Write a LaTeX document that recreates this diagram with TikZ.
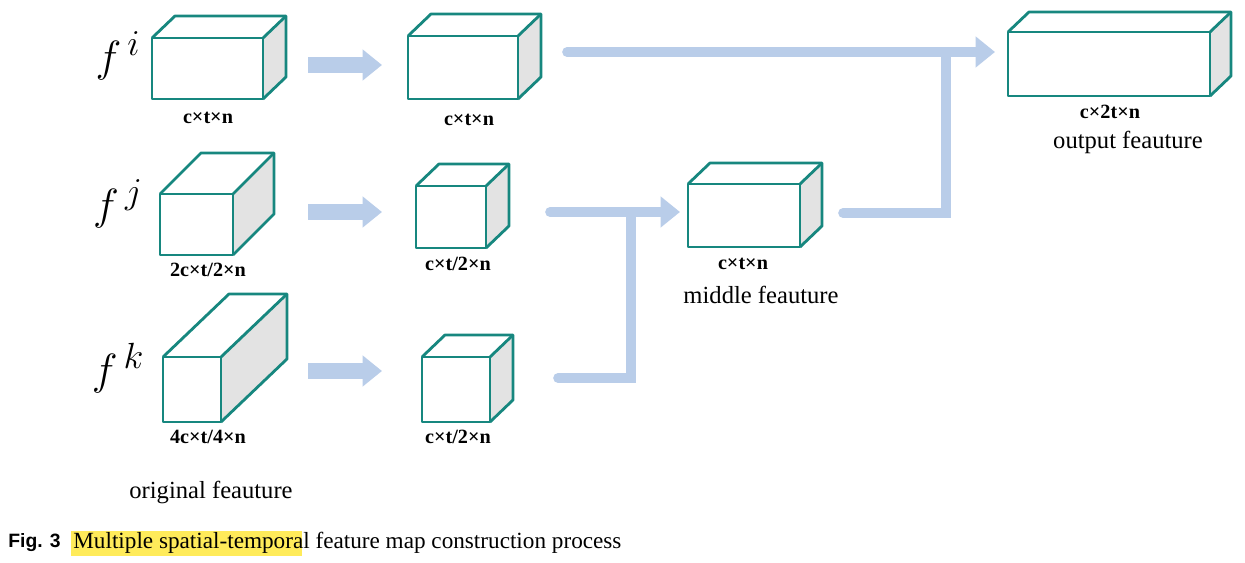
\documentclass[tikz,border=0pt]{standalone}
\usepackage{fontspec}
\setmainfont{Liberation Serif}
\newfontfamily\capfont{Liberation Sans}
\usetikzlibrary{arrows.meta}
\definecolor{edge}{HTML}{17877F}
\definecolor{flow}{HTML}{B9CDE9}
\definecolor{hl}{HTML}{FFEB5A}
\tikzset{
  face/.style={draw=edge, line width=1.6pt, line join=round},
  flw/.style={draw=flow, line width=5.5pt, line cap=round},
  tip/.style={-{Triangle[length=11pt,width=17pt]}},
  dim/.style={font=\fontsize{11.5}{13}\selectfont\bfseries, inner sep=0pt},
  txt/.style={font=\fontsize{14}{16}\selectfont, inner sep=0pt},
  fx/.style={font=\fontsize{28}{30}\selectfont, inner sep=0pt}
}
% cuboid: front x1,y1,x2,y2 and depth dx,dy
\newcommand\cuboid[6]{%
  \fill[gray!22] (#3,#2) -- ++(#5,#6) -- (#3+#5,#4+#6) -- (#3,#4) -- cycle;
  \draw[face] (#1,#2) rectangle (#3,#4);
  \draw[face] (#1,#2) -- ++(#5,#6) -- (#3+#5,#2+#6) -- (#3+#5,#4+#6) -- (#3,#4);
  \draw[face] (#3,#2) -- (#3+#5,#2+#6);
}
\begin{document}
\begin{tikzpicture}[x=0.02cm,y=-0.02cm]
\useasboundingbox (0,0) rectangle (1245,563);
% flows
\coordinate (a1) at (308,65); \coordinate (a2) at (382,65);
\coordinate (b1) at (308,212); \coordinate (b2) at (382,212);
\coordinate (c1) at (308,371); \coordinate (c2) at (382,371);
\foreach \s/\e in {a1/a2,b1/b2,c1/c2}
  \draw[draw=flow, line width=9pt, tip] (\s) -- (\e);
\coordinate (i0) at (567,52); \coordinate (i1) at (946,52); \coordinate (i2) at (995,52);
\coordinate (m0) at (843,213); \coordinate (m1) at (946,213);
\draw[flw] (i0) -- (i1);
\draw[flw] (m0) -- (m1) -- (i1);
\draw[draw=flow, line width=5.5pt, tip] (i1) -- (i2);
\coordinate (j0) at (550,212); \coordinate (j1) at (631,212); \coordinate (j2) at (680,212);
\coordinate (k0) at (558,378); \coordinate (k1) at (631,378);
\draw[flw] (j0) -- (j1);
\draw[flw] (k0) -- (k1) -- (j1);
\draw[draw=flow, line width=5.5pt, tip] (j1) -- (j2);
% cuboids
\cuboid{152}{38}{263}{99}{23}{-22}
\cuboid{408}{36}{518}{99}{23}{-22}
\cuboid{160}{194}{233}{255}{41}{-41}
\cuboid{416}{186}{486}{248}{23}{-22}
\cuboid{163}{357}{221}{422}{66}{-63}
\cuboid{422}{357}{490}{422}{23}{-22}
\cuboid{688}{184}{800}{247}{22}{-21}
\cuboid{1008}{32}{1210}{96}{21}{-20}
% labels
\node[fx] (fi) at (118,56) {$f^{\,i}$};
\node[fx] (fj) at (118,204) {$f^{\,j}$};
\node[fx] (fk) at (118,368) {$f^{\,k}$};
\node[dim] (d1) at (208,118) {c×t×n};
\node[dim] (d2) at (469,120) {c×t×n};
\node[dim] (d3) at (208,270) {2c×t/2×n};
\node[dim] (d4) at (458,264) {c×t/2×n};
\node[dim] (d5) at (208,437) {4c×t/4×n};
\node[dim] (d6) at (458,437) {c×t/2×n};
\node[dim] (d7) at (743,264) {c×t×n};
\node[dim] (d8) at (1110,112) {c×2t×n};
\node[txt] (o1) at (211,492) {original feauture};
\node[txt] (o2) at (761,295) {middle feauture};
\node[txt] (o3) at (1128,142) {output feauture};
% caption
\fill[hl] (71,531) rectangle (302,556);
\node[font=\capfont\bfseries\fontsize{11}{12}\selectfont, anchor=west, inner sep=0pt] (fig) at (8,543) {Fig. 3};
\node[font=\fontsize{13.2}{15}\selectfont, inner sep=0pt, anchor=west] (ct) at (73,543) {Multiple spatial-temporal feature map construction process};
\end{tikzpicture}
\end{document}
